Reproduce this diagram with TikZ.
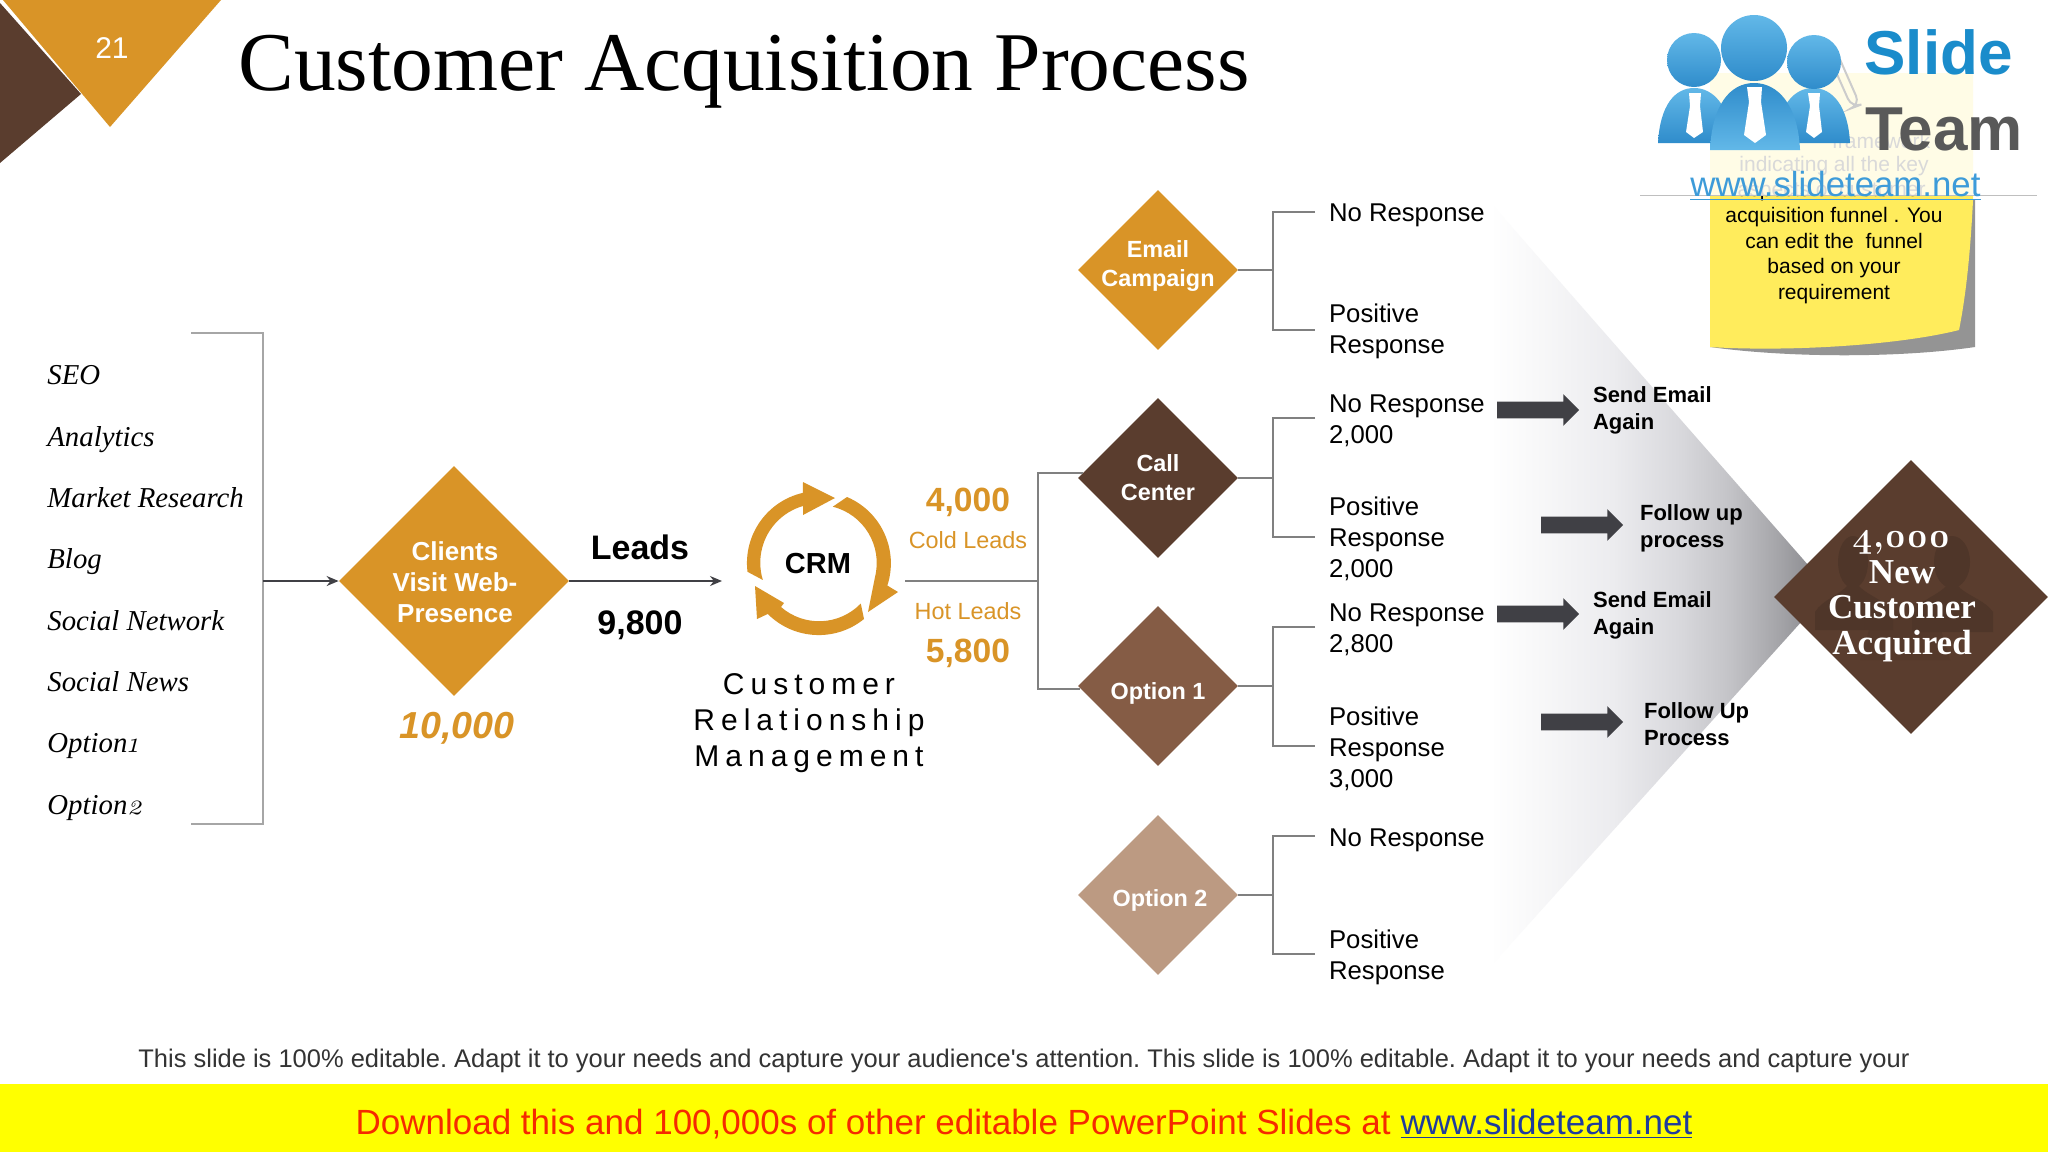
\documentclass[tikz,border=0pt]{standalone}
\usepackage{fontspec}
\setmainfont{Liberation Sans}
\newfontfamily\titlefont{Liberation Serif}
\newfontfamily\listfont[Numbers=OldStyle]{Latin Modern Roman}
\newfontfamily\spacedfont[LetterSpace=20]{Liberation Sans}
\usepackage{xcolor}
\usetikzlibrary{positioning, shapes.geometric, shapes.arrows, arrows.meta}
\definecolor{gold}{HTML}{D99427}
\definecolor{darkbrown}{HTML}{5A3D2E}
\definecolor{midbrown}{HTML}{855C45}
\definecolor{lightbrown}{HTML}{BC9A82}
\definecolor{wirecol}{HTML}{808080}
\definecolor{blockcol}{HTML}{404045}
\definecolor{notecol}{HTML}{FFEC5C}
\definecolor{logoblue}{HTML}{3D9BD9}
\definecolor{logotop}{HTML}{62B8E8}
\definecolor{logobot}{HTML}{2F8CCB}
\definecolor{slideblue}{HTML}{1A8CCB}
\definecolor{bandyellow}{HTML}{FFFF00}
\definecolor{bandred}{HTML}{F52A00}
\definecolor{bandblue}{HTML}{1F3C9C}
\definecolor{fadea}{HTML}{ECECEF}
\definecolor{fadeb}{HTML}{D8D8DC}
\definecolor{fadec}{HTML}{C4C4C8}
\definecolor{faded}{HTML}{A2A2A6}
\definecolor{fadee}{HTML}{808085}
\pgfdeclarehorizontalshading{funnelfade}{100bp}{color(0bp)=(white); color(25bp)=(white); color(43bp)=(fadea); color(53bp)=(fadeb); color(60bp)=(fadec); color(68bp)=(faded); color(75bp)=(fadee); color(100bp)=(fadee)}

\begin{document}
\begin{tikzpicture}[
    x=.5pt, y=-.5pt,
    kite/.style={diamond, inner sep=0pt, minimum width=80pt, minimum height=80pt},
    kitetext/.style={align=center, text=white, font=\fontsize{11.7}{14.5}\selectfont\bfseries},
    resp/.style={anchor=west, align=left, font=\fontsize{12.85}{15.5}\selectfont},
    item/.style={anchor=base west, inner sep=0pt, font=\fontsize{14.4}{17}\selectfont\titlefont\itshape},
    todo/.style={anchor=west, align=left, font=\fontsize{11}{13.5}\selectfont\bfseries},
    blockarrow/.style={single arrow, fill=blockcol, inner xsep=0pt, inner ysep=4pt, minimum width=15.5pt, minimum height=41pt, single arrow head extend=3.75pt, single arrow head indent=0pt},
    wire/.style={draw=wirecol, line width=.7pt},
    leadarrow/.style={draw=blockcol, line width=.7pt, -{Stealth[length=6pt,width=5pt]}},
    goldtext/.style={align=center, text=gold}
    ]
\useasboundingbox (0,0) rectangle (2048,1152);
\fill[white] (0,0) rectangle (2048,1152);

% corner and title
\fill[darkbrown] (0,3) -- (81,94) -- (0,163) -- cycle;
\fill[gold] (3,0) -- (221,0) -- (110,127) -- cycle;
\node[text=white, font=\fontsize{15}{18}\selectfont] (page) at (112,48) {21};
\node[anchor=base west, inner sep=0pt, font=\fontsize{41.75}{48}\selectfont\titlefont] (title) at (238,90) {Customer Acquisition Process};

% funnel behind the last column
\shade[shading=funnelfade] (1490,202) -- (1830,590) -- (1490,967) -- cycle;

% sticky note
\fill[black!42] (1710,347) .. controls (1790,358) and (1900,358) .. (1975,347) -- (1975,200) -- (1900,200) -- cycle;
\fill[notecol] (1710,73) -- (1973,73) -- (1973,200) .. controls (1970,260) and (1965,300) .. (1959,330) .. controls (1900,345) and (1790,352) .. (1710,347) -- cycle;
\node[align=center, font=\fontsize{10.5}{12.85}\selectfont] (notetext) at (1834,230) {indicating all the key\\aspects of customer.\\acquisition funnel . You\\can edit the\ \ funnel\\based on your\\requirement};
\node[anchor=west, font=\fontsize{10.5}{12.85}\selectfont] (notetop) at (1825,141) {framework};
\fill[white, opacity=.85] (1637,0) rectangle (2037,195);
\draw[black!25, line width=.5pt] (1640,195) -- (2037,195);

% logo
\draw[black!20, line width=1pt, rounded corners=5pt] (1838,55) -- (1860,105) -- (1852,108) -- (1836,72);
\shade[top color=logotop, bottom color=logobot] (1658,143) .. controls (1660,105) and (1675,88) .. (1694,88) .. controls (1713,88) and (1730,105) .. (1732,143) -- cycle;
\shade[top color=logotop, bottom color=logobot] (1776,143) .. controls (1778,105) and (1794,88) .. (1813,88) .. controls (1832,88) and (1848,105) .. (1850,143) -- cycle;
\shade[top color=logobot, bottom color=logotop] (1710,150) .. controls (1712,105) and (1730,83) .. (1754,83) .. controls (1778,83) and (1798,105) .. (1800,150) -- cycle;
\shade[top color=logotop, bottom color=logobot] (1694,60) circle (27);
\shade[top color=logotop, bottom color=logobot] (1814,62) circle (27);
\shade[top color=logotop, bottom color=logobot] (1754,48) circle (33);
\fill[white] (1689,93) -- (1701,93) -- (1700,106) -- (1703,132) -- (1694,138) -- (1686,132) -- (1690,106) -- cycle;
\fill[white] (1747,87) -- (1762,87) -- (1761,102) -- (1766,135) -- (1755,143) -- (1744,135) -- (1749,102) -- cycle;
\fill[white] (1808,93) -- (1820,93) -- (1819,106) -- (1822,132) -- (1814,138) -- (1806,132) -- (1810,106) -- cycle;
\node[anchor=base west, inner sep=0pt, text=slideblue, font=\fontsize{31}{36}\selectfont\bfseries] (slide) at (1864,74) {Slide};
\node[anchor=base west, inner sep=0pt, text=black!65, font=\fontsize{31}{36}\selectfont\bfseries] (team) at (1865,150) {Team};
\node[anchor=base west, inner sep=0pt, text=logoblue, font=\fontsize{17.4}{20}\selectfont] (logourl) at (1690,196) {\underline{www.slideteam.net}};

% list on the left
\node[item] (seo) at (47,384) {SEO};
\node[item] (analytics) at (47,446) {Analytics};
\node[item] (market) at (47,507) {Market Research};
\node[item] (blog) at (47,568) {Blog};
\node[item] (network) at (47,630) {Social Network};
\node[item] (news) at (47,691) {Social News};
\node[item] (optionone) at (47,752) {Option{\listfont 1}};
\node[item] (optiontwo) at (47,814) {Option{\listfont 2}};
\coordinate (listtop) at (191,333);
\coordinate (listbot) at (191,824);
\coordinate (listmid) at (263,581);
\draw[wire, draw=black!35] (listtop) -| (listmid) |- (listbot);

% clients and leads
\node[kite, minimum width=115pt, minimum height=115pt, fill=gold] (clients) at (454,581) {};
\node[kitetext, font=\fontsize{13}{15.5}\selectfont\bfseries] (clientstext) at (455,582) {Clients\\Visit Web-\\Presence};
\node[text=gold, font=\fontsize{18.8}{22}\selectfont\bfseries\itshape] (tenk) at (457,728) {10,000};
\draw[leadarrow] (listmid) -- (clients.west);
\coordinate (crmin) at (722,581);
\draw[leadarrow] (clients.east) -- (crmin);
\node[font=\fontsize{17}{20}\selectfont\bfseries] (leads) at (640,547) {Leads};
\node[font=\fontsize{17}{20}\selectfont\bfseries] (leadsnum) at (640,625) {9,800};

% crm ring
\node[font=\fontsize{14.5}{17}\selectfont\bfseries] (crm) at (818,564) {CRM};
\fill[gold] (747.5,571.8) arc[start angle=173, end angle=257, radius=72] -- (803,482) -- (835,498) -- (803,515) -- (803,506) arc[start angle=254, end angle=163, radius=59] -- cycle;
\fill[gold] (847,497) arc[start angle=293, end angle=378, radius=72] -- (898,592) -- (868,612) -- (875,577) arc[start angle=14, end angle=-76, radius=58] -- cycle;
\fill[gold] (864,619) arc[start angle=51, end angle=135, radius=72] -- (757,619) -- (755,586) -- (784,603) -- (781,607) arc[start angle=131, end angle=44, radius=58] -- cycle;
\node[align=center, font=\fontsize{15}{18}\selectfont\spacedfont] (crmname) at (809,723) {Customer\\Relationship\\Management};

\node[goldtext, font=\fontsize{16.8}{20}\selectfont\bfseries] (coldnum) at (968,502) {4,000};
\node[goldtext, font=\fontsize{11.7}{14}\selectfont] (cold) at (968,540) {Cold Leads};
\node[goldtext, font=\fontsize{11.7}{14}\selectfont] (hot) at (968,611) {Hot Leads};
\node[goldtext, font=\fontsize{16.8}{20}\selectfont\bfseries] (hotnum) at (968,653) {5,800};

% four campaigns
\node[kite, fill=gold] (email) at (1158,270) {};
\node[kitetext] (emailtext) at (1158,266) {Email\\Campaign};
\node[kite, fill=darkbrown] (call) at (1158,478) {};
\node[kitetext] (calltext) at (1158,478) {Call\\Center};
\node[kite, fill=midbrown] (opta) at (1158,686) {};
\node[kitetext] (optatext) at (1158,693) {Option 1};
\node[kite, fill=lightbrown] (optb) at (1158,895) {};
\node[kitetext] (optbtext) at (1160,900) {Option 2};

\coordinate (split) at (905,581);
\coordinate (trunk) at (1038,581);
\draw[wire] (split) -- (trunk);
\draw[wire] ([shift={(2.5pt,2.5pt)}]call.west) -| (trunk) |- ([shift={(1pt,-1.5pt)}]opta.west);

% responses
\node[resp] (r1) at (1322,215) {No Response};
\node[resp] (r2) at (1322,331) {Positive\\Response};
\node[resp] (r3) at (1322,421) {No Response\\2,000};
\node[resp] (r4) at (1322,539) {Positive\\Response\\2,000};
\node[resp] (r5) at (1322,630) {No Response\\2,800};
\node[resp] (r6) at (1322,749) {Positive\\Response\\3,000};
\node[resp] (r7) at (1322,840) {No Response};
\node[resp] (r8) at (1322,957) {Positive\\Response};

\coordinate (e1) at (1315,212);
\coordinate (e2) at (1315,330);
\coordinate (c1) at (1315,418);
\coordinate (c2) at (1315,537);
\coordinate (a1) at (1315,627);
\coordinate (a2) at (1315,746);
\coordinate (b1) at (1315,836);
\coordinate (b2) at (1315,954);
\coordinate (ej) at (1273,270);
\coordinate (cj) at (1273,478);
\coordinate (aj) at (1273,686);
\coordinate (bj) at (1273,895);
\draw[wire] (email.east) -- (ej);
\draw[wire] (e1) -| (ej) |- (e2);
\draw[wire] (call.east) -- (cj);
\draw[wire] (c1) -| (cj) |- (c2);
\draw[wire] (opta.east) -- (aj);
\draw[wire] (a1) -| (aj) |- (a2);
\draw[wire] (optb.east) -- (bj);
\draw[wire] (b1) -| (bj) |- (b2);

% what follows a response
\node[blockarrow] (fa) at (1534,410) {};
\node[blockarrow] (fb) at (1578,525) {};
\node[blockarrow] (fc) at (1534,614) {};
\node[blockarrow] (fd) at (1578,722) {};
\node[todo] (ta) at (1586,410) {Send Email\\Again};
\node[todo] (tb) at (1633,528) {Follow up\\process};
\node[todo] (tc) at (1586,615) {Send Email\\Again};
\node[todo] (td) at (1637,724) {Follow Up\\Process};

% result
\node[kite, minimum width=137pt, minimum height=137pt, fill=darkbrown] (result) at (1911,597) {};
\fill[darkbrown!93!black] (1860,660) -- (1875,610) .. controls (1890,600) and (1920,600) .. (1935,610) -- (1950,660) -- cycle;
\fill[darkbrown!88!black] (1853,562) ellipse (15 and 26) (1952,562) ellipse (18 and 26);
\fill[darkbrown!88!black] (1815,630) -- (1815,612) .. controls (1822,600) and (1840,595) .. (1848,585) -- (1858,585) .. controls (1866,595) and (1885,600) .. (1893,612) -- (1893,630) -- cycle;
\fill[darkbrown!88!black] (1993,632) -- (1993,612) .. controls (1985,600) and (1965,595) .. (1957,585) -- (1947,585) .. controls (1939,595) and (1920,600) .. (1912,612) -- (1912,632) -- cycle;
\node[align=center, text=white, font=\fontsize{17.5}{17.75}\selectfont\titlefont\bfseries] (resulttext) at (1902,596) {{\listfont\bfseries 4,000}\\New\\Customer\\Acquired};

% bottom
\node[text=black!80, font=\fontsize{12.74}{15}\selectfont\frenchspacing] (foot) at (1024,1061) {This slide is 100\% editable. Adapt it to your needs and capture your audience\textquotesingle s attention. This slide is 100\% editable. Adapt it to your needs and capture your};
\fill[bandyellow] (0,1084) rectangle (2048,1152);
\node[text=bandred, font=\fontsize{17.5}{20}\selectfont\frenchspacing] (band) at (1024,1124) {Download this and 100,000s of other editable PowerPoint Slides at {\color{bandblue}\underline{www.slideteam.net}}};
\end{tikzpicture}
\end{document}
